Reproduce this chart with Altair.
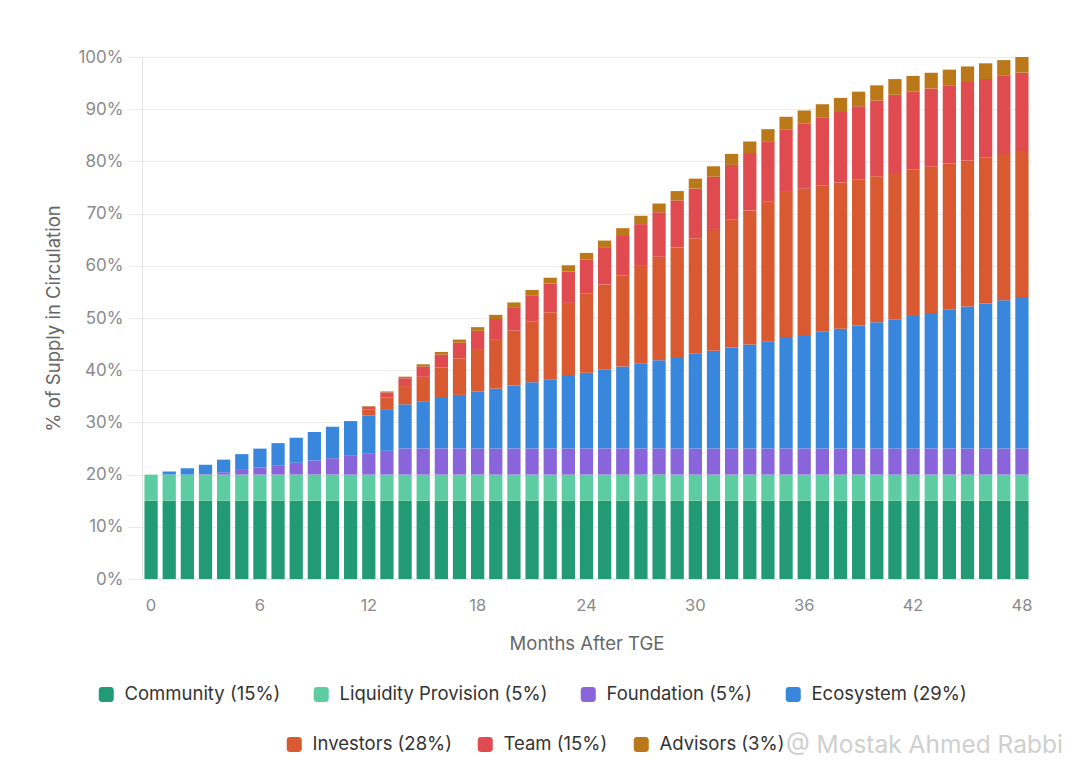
import altair as alt
import pandas as pd

MONTHS = list(range(0, 49))

CATEGORIES = [
    "Community (15%)",
    "Liquidity Provision (5%)",
    "Foundation (5%)",
    "Ecosystem (29%)",
    "Investors (28%)",
    "Team (15%)",
    "Advisors (3%)",
]
COLORS = ["#229b74", "#5ecca2", "#8a64da", "#3887dc", "#d95a30", "#e04b50", "#bb7818"]

community = [15, 15, 15, 15, 15, 15, 15, 15, 15, 15, 15, 15, 15, 15, 15, 15, 15,
             15, 15, 15, 15, 15, 15, 15, 15, 15, 15, 15, 15, 15, 15, 15, 15, 15,
             15, 15, 15, 15, 15, 15, 15, 15, 15, 15, 15, 15, 15, 15, 15]
liquidity = [5, 5, 5, 5, 5, 5, 5, 5, 5, 5, 5, 5, 5, 5, 5, 5, 5,
             5, 5, 5, 5, 5, 5, 5, 5, 5, 5, 5, 5, 5, 5, 5, 5, 5,
             5, 5, 5, 5, 5, 5, 5, 5, 5, 5, 5, 5, 5, 5, 5]
foundation = [0, 0, 0, 0.1, 0.45, 0.9, 1.35, 1.8, 2.25, 2.7, 3.15, 3.6, 4.1, 4.55, 5,
              5, 5, 5, 5, 5, 5, 5, 5, 5, 5, 5, 5, 5, 5, 5, 5, 5, 5, 5,
              5, 5, 5, 5, 5, 5, 5, 5, 5, 5, 5, 5, 5, 5, 5]
ecosystem = [0, 0.6, 1.21, 1.81, 2.42, 3.02, 3.63, 4.23, 4.83, 5.44,
             6.04, 6.65, 7.25, 7.85, 8.46, 9.06, 9.67, 10.27, 10.88, 11.48,
             12.08, 12.69, 13.29, 13.9, 14.5, 15.1, 15.71, 16.31, 16.92, 17.52,
             18.13, 18.73, 19.33, 19.94, 20.54, 21.15, 21.75, 22.35, 22.96, 23.56,
             24.17, 24.77, 25.38, 25.98, 26.58, 27.19, 27.79, 28.4, 29.0]
investors = [0, 0, 0, 0, 0, 0, 0, 0, 0, 0, 0, 0,
             1.17, 2.33, 3.5, 4.67, 5.83, 7.0, 8.17, 9.33, 10.5, 11.67, 12.83, 14.0,
             15.17, 16.33, 17.5, 18.67, 19.83, 21.0, 22.17, 23.33, 24.5, 25.67, 26.83, 28.0,
             28, 28, 28, 28, 28, 28, 28, 28, 28, 28, 28, 28, 28]
team = [0, 0, 0, 0, 0, 0, 0, 0, 0, 0, 0, 0,
        0.5, 1.0, 1.5, 2.0, 2.5, 3.0, 3.5, 4.0, 4.5, 5.0, 5.5, 6.0, 6.5, 7.0, 7.5,
        8.0, 8.5, 9.0, 9.5, 10.0, 10.5, 11.0, 11.5, 12.0, 12.5, 13.0, 13.5, 14.0, 14.5, 15.0,
        15, 15, 15, 15, 15, 15, 15]
advisors = [0, 0, 0, 0, 0, 0, 0, 0, 0, 0, 0, 0,
            0.1, 0.2, 0.3, 0.4, 0.5, 0.6, 0.7, 0.8, 0.9, 1.0, 1.1, 1.2, 1.3, 1.4, 1.5,
            1.6, 1.7, 1.8, 1.9, 2.0, 2.1, 2.2, 2.3, 2.4, 2.5, 2.6, 2.7, 2.8, 2.9, 3.0,
            3, 3, 3, 3, 3, 3, 3]

X_TICKS = [0, 6, 12, 18, 24, 30, 36, 42, 48]
Y_TICKS = [0, 10, 20, 30, 40, 50, 60, 70, 80, 90, 100]
X_TITLE = "Months After TGE"
Y_TITLE = "% of Supply in Circulation"
WATERMARK = "@ Mostak Ahmed Rabbi"

series = [community, liquidity, foundation, ecosystem, investors, team, advisors]
rows = []
for idx, (cat, vals) in enumerate(zip(CATEGORIES, series)):
    for m, v in zip(MONTHS, vals):
        rows.append({"month": m, "cat": cat, "idx": idx, "value": v})
df = pd.DataFrame(rows)

FONT = "Inter"
ROUNDED = "M-1,-0.55 Q-1,-1 -0.55,-1 L0.55,-1 Q1,-1 1,-0.55 L1,0.55 Q1,1 0.55,1 L-0.55,1 Q-1,1 -1,0.55 Z"

base = alt.Chart(df).transform_stack(
    stack="value",
    groupby=["month"],
    as_=["y0", "y1"],
    sort=[alt.SortField("idx", order="ascending")],
)

x_enc = alt.X(
    "month:O",
    scale=alt.Scale(paddingInner=0.27, paddingOuter=0.135),
    axis=alt.Axis(
        values=X_TICKS, labelAngle=0, ticks=False, labelPadding=18,
        domainColor="#e3e3e3", title=X_TITLE, titleY=55, grid=False,
        labelFontSize=16.5, titleFontSize=18.5,
    ),
)
y_enc = alt.Y(
    "y0:Q",
    scale=alt.Scale(domain=[0, 100], nice=False),
    axis=alt.Axis(
        values=Y_TICKS, labelExpr="datum.value + '%'", tickSize=14,
        tickColor="#e8e8e8", domainColor="#e3e3e3", gridColor="#ececec",
        labelPadding=5, title=Y_TITLE, titleX=-79,
        labelFontSize=17, titleFontSize=18.5,
    ),
)


def legend(x, y, pad):
    return alt.Legend(
        orient="none", legendX=x, legendY=y, direction="horizontal", title=None,
        symbolType=ROUNDED, symbolSize=225, symbolStrokeWidth=0, labelFontSize=18.5,
        labelColor="#333333", labelFont=FONT, labelOffset=9, columnPadding=pad,
        padding=0, symbolOpacity=1, labelLimit=0,
    )


bars_a = base.transform_filter("datum.idx < 4").mark_bar().encode(
    x=x_enc,
    y=y_enc,
    y2="y1:Q",
    color=alt.Color("cat:N", scale=alt.Scale(domain=CATEGORIES[:4], range=COLORS[:4]),
                    legend=legend(-45, 628, 31)),
)
bars_b = base.transform_filter("datum.idx >= 4").mark_bar().encode(
    x=x_enc,
    y=y_enc,
    y2="y1:Q",
    color=alt.Color("cat:N", scale=alt.Scale(domain=CATEGORIES[4:], range=COLORS[4:]),
                    legend=legend(143, 678, 24)),
)

wm = alt.Chart(pd.DataFrame({"t": [WATERMARK]})).mark_text(
    align="left", baseline="middle", fontSize=24.5, color="#cfcfcf", font=FONT,
).encode(x=alt.value(644), y=alt.value(689), text="t:N")

chart = alt.layer(bars_a, bars_b, wm).resolve_scale(color="independent").properties(
    width=889,
    height=522,
    autosize=alt.AutoSizeParams(type="none"),
    padding={"left": 134, "top": 49, "right": 40, "bottom": 180},
).configure_view(stroke=None).configure_axis(
    labelFont=FONT, titleFont=FONT, labelColor="#8a8a8a",
    titleColor="#666666", titleFontWeight="normal",
)

chart.save("out.html", embed_options={"renderer": "svg", "actions": False})
